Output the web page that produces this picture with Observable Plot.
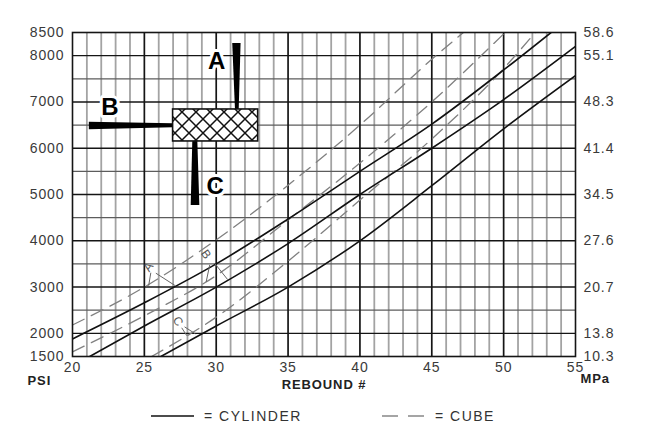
<!DOCTYPE html>
<html><head><meta charset="utf-8">
<script src="https://cdn.jsdelivr.net/npm/d3@7"></script>
<script src="https://cdn.jsdelivr.net/npm/@observablehq/plot@0.6"></script>
<style>
body{margin:0;background:#fff;font-family:"Liberation Sans",Arial,Helvetica,sans-serif;}
#legend{position:relative;width:650px;height:41px;}
</style></head><body>
<div id="chart"></div>
<div id="legend"></div>
<script>
// ---- data ----
const xTicks = [20, 25, 30, 35, 40, 45, 50, 55];
const psiTicks = [1500, 2000, 3000, 4000, 5000, 6000, 7000, 8000, 8500];
const mpaLabels = ["10.3", "13.8", "20.7", "27.6", "34.5", "41.4", "48.3", "55.1", "58.6"];
const minorX = d3.range(21, 55).filter(v => v % 5 !== 0);
const majorX = [25, 30, 35, 40, 45, 50];
const majorY = [2000, 3000, 4000, 5000, 6000, 7000, 8000];
const halfY = [2500, 3500, 4500, 5500, 6500, 7500];

// cylinder (solid) curves
const cylA_x = [20, 25, 30, 35, 40, 45, 50, 53.3];
const cylA_psi = [1880, 2660, 3500, 4470, 5500, 6520, 7690, 8500];
const cylB_x = [21.2, 25, 30, 35, 40, 45, 50, 55];
const cylB_psi = [1500, 2160, 3000, 3940, 5000, 6000, 7050, 8200];
const cylC_x = [26.15, 30, 35, 40, 45, 50, 55];
const cylC_psi = [1500, 2160, 3000, 4000, 5190, 6420, 7570];
// cube (dashed) curves
const cubeA_x = [20, 25, 30, 35, 40, 45, 47.2];
const cubeA_psi = [2180, 3000, 4020, 5200, 6500, 7920, 8500];
const cubeB_x = [20, 25, 30, 35, 40, 45, 50.1];
const cubeB_psi = [1600, 2380, 3250, 4450, 5680, 7000, 8500];
const cubeC_x = [25.5, 30, 35, 40, 45, 50, 52.2];
const cubeC_psi = [1500, 2350, 3560, 4880, 6200, 7720, 8500];

// hammer icon
const hammerBox = [{x1: 27.0, x2: 32.92, y1: 6146, y2: 6837}];
const barA = [{y: 8260, x1: 31.15, x2: 31.73}, {y: 6837, x1: 31.34, x2: 31.6}];
const barB = [{x: 21.17, y1: 6400, y2: 6560}, {x: 27.0, y1: 6440, y2: 6530}];
const barC = [{y: 4763, x1: 28.26, x2: 28.86}, {y: 6146, x1: 28.37, x2: 28.72}];
const bigLetters = [{t: "A", x: 30.07, y: 7880}, {t: "B", x: 22.64, y: 6890}, {t: "C", x: 29.95, y: 5180}];

// curve annotations
const smallLabels = [{t: "A", x: 25.3, y: 3440, r: -55}, {t: "B", x: 29.3, y: 3700, r: 55}, {t: "C", x: 27.35, y: 2250, r: 55}];
const leaders = [
  {x1: 25.45, y1: 3310, x2: 25.3, y2: 3030},
  {x1: 25.8, y1: 3300, x2: 27.15, y2: 3030},
  {x1: 29.55, y1: 3480, x2: 29.3, y2: 3110},
  {x1: 29.9, y1: 3510, x2: 30.8, y2: 3160},
  {x1: 27.6, y1: 2120, x2: 27.95, y2: 1950},
  {x1: 27.8, y1: 2140, x2: 28.55, y2: 1990}
];

// ---- build tables ----
const series = [
  {name: "cylA", type: "cyl", xs: cylA_x, ys: cylA_psi},
  {name: "cylB", type: "cyl", xs: cylB_x, ys: cylB_psi},
  {name: "cylC", type: "cyl", xs: cylC_x, ys: cylC_psi},
  {name: "cubeA", type: "cube", xs: cubeA_x, ys: cubeA_psi},
  {name: "cubeB", type: "cube", xs: cubeB_x, ys: cubeB_psi},
  {name: "cubeC", type: "cube", xs: cubeC_x, ys: cubeC_psi}
];
const rows = series.flatMap(s => s.xs.map((x, i) => ({series: s.name, type: s.type, x, psi: s.ys[i]})));
const cylRows = rows.filter(d => d.type === "cyl");
const cubeRows = rows.filter(d => d.type === "cube");

const FONT = '"Liberation Sans", Arial, Helvetica, sans-serif';

const chart = Plot.plot({
  width: 650,
  height: 400,
  marginTop: 32,
  marginBottom: 44,
  marginLeft: 72,
  marginRight: 75,
  x: {domain: [20, 55]},
  y: {domain: [1500, 8500]},
  style: {fontFamily: FONT, fontSize: "14px", color: "#3a3a3a", background: "white", overflow: "visible", letterSpacing: "0.9px"},
  marks: [
    Plot.ruleX(minorX, {stroke: "#a3a3a3", strokeWidth: 1.8}),
    Plot.ruleY(halfY, {stroke: "#5c5c5c", strokeWidth: 1.2}),
    Plot.ruleY(majorY, {stroke: "#151515", strokeWidth: 1.4}),
    Plot.ruleX(majorX, {stroke: "#151515", strokeWidth: 1.7}),
    Plot.line(cubeRows, {x: "x", y: "psi", z: "series", stroke: "#808080", strokeWidth: 1.3, strokeDasharray: "13,8", curve: "monotone-x", clip: true}),
    Plot.line(cylRows, {x: "x", y: "psi", z: "series", stroke: "#111", strokeWidth: 1.6, curve: "monotone-x", clip: true}),
    Plot.link(leaders, {x1: "x1", y1: "y1", x2: "x2", y2: "y2", stroke: "#666", strokeWidth: 1}),
    Plot.text(smallLabels, {x: "x", y: "y", text: "t", rotate: d => d.r, fontSize: 12, fill: "#555"}),
    Plot.frame({stroke: "#151515", strokeWidth: 1.6}),
    // hammer icon
    Plot.areaX(barA, {y: "y", x1: "x1", x2: "x2", fill: "#000"}),
    Plot.areaY(barB, {x: "x", y1: "y1", y2: "y2", fill: "#000"}),
    Plot.areaX(barC, {y: "y", x1: "x1", x2: "x2", fill: "#000"}),
    Plot.rect(hammerBox, {x1: "x1", x2: "x2", y1: "y1", y2: "y2", fill: "url(#xhatch)", stroke: "#111", strokeWidth: 1.6}),
    Plot.text(bigLetters, {x: "x", y: "y", text: "t", fontSize: 24, fontWeight: "bold", fill: "#000", stroke: "white", strokeWidth: 6, paintOrder: "stroke"}),
    // axes
    Plot.axisY({anchor: "left", ticks: psiTicks, tickSize: 0, tickPadding: 8, label: null, tickFormat: d => String(d)}),
    Plot.axisY({anchor: "right", ticks: psiTicks, tickSize: 0, tickPadding: 8, label: null, tickFormat: d => mpaLabels[psiTicks.indexOf(d)]}),
    Plot.axisX({anchor: "bottom", ticks: xTicks, tickSize: 0, tickPadding: 6, label: null, tickFormat: d => String(d)}),
    Plot.text(["PSI"], {frameAnchor: "bottom-left", textAnchor: "start", dx: -45, dy: 28, fontWeight: "bold", fontSize: 13, fill: "#222"}),
    Plot.text(["REBOUND #"], {frameAnchor: "bottom", dx: 0, dy: 32, fontWeight: "bold", fontSize: 13, fill: "#222"}),
    Plot.text(["MPa"], {frameAnchor: "bottom-right", textAnchor: "start", dx: 5, dy: 26, fontWeight: "bold", fontSize: 13, fill: "#222"})
  ]
});

// cross-hatch pattern for the hammer box
const defs = d3.select(chart).insert("defs", ":first-child");
const pat = defs.append("pattern").attr("id", "xhatch").attr("patternUnits", "userSpaceOnUse")
  .attr("width", 14).attr("height", 14);
pat.append("rect").attr("width", 14).attr("height", 14).attr("fill", "white");
pat.append("path").attr("d", "M-1,-1L15,15M15,-1L-1,15").attr("stroke", "#111").attr("stroke-width", 1.5);

document.getElementById("chart").appendChild(chart);

// legend below the chart
const lg = d3.select("#legend").append("svg").attr("width", 650).attr("height", 41)
  .style("font-family", FONT).style("letter-spacing", "1.5px");
lg.append("line").attr("x1", 151).attr("x2", 194).attr("y1", 16).attr("y2", 16)
  .attr("stroke", "#111").attr("stroke-width", 1.5);
lg.append("text").attr("x", 204).attr("y", 21).attr("font-size", 14).attr("fill", "#333").text("= CYLINDER");
lg.append("line").attr("x1", 382).attr("x2", 425).attr("y1", 16).attr("y2", 16)
  .attr("stroke", "#888").attr("stroke-width", 1.5).attr("stroke-dasharray", "16,10");
lg.append("text").attr("x", 435).attr("y", 21).attr("font-size", 14).attr("fill", "#333").text("= CUBE");
</script></body></html>
